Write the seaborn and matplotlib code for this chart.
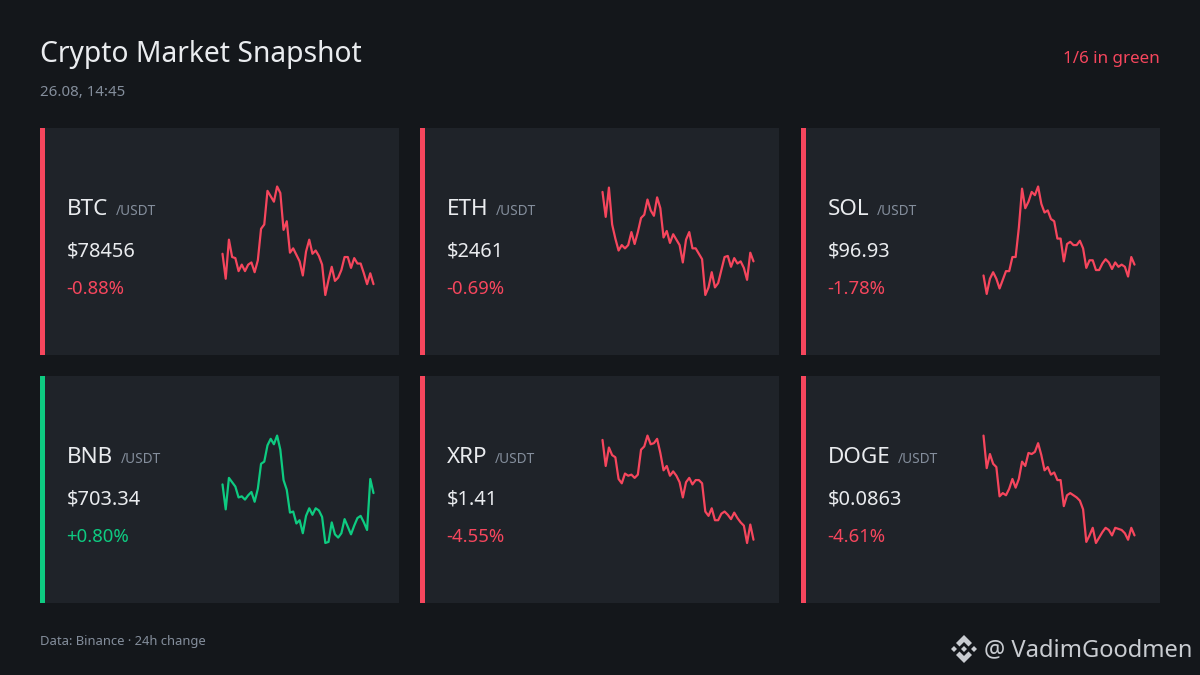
import matplotlib
matplotlib.use("Agg")
import matplotlib.pyplot as plt
from matplotlib.patches import Rectangle, Polygon
import pandas as pd
import seaborn as sns

symbols = ["BTC", "ETH", "SOL", "BNB", "XRP", "DOGE"]
prices = ["$78456", "$2461", "$96.93", "$703.34", "$1.41", "$0.0863"]
changes = ["-0.88%", "-0.69%", "-1.78%", "+0.80%", "-4.55%", "-4.61%"]

btc = [38,15,51,35,34,22,28,22,28,30,21,32,61,65,96,91,86,100,94,60,68,39,43,37,31,18,40,51,38,41,36,28,0,14,26,13,16,23,35,35,25,34,29,29,20,10,20,10]
eth = [95,72,99,65,52,41,46,43,46,58,47,58,71,74,88,78,73,90,80,53,59,48,56,51,46,30,51,58,43,43,38,33,0,7,21,7,11,23,35,36,26,34,29,31,25,14,39,31]
sol = [18,1,15,21,15,6,14,22,22,35,35,62,98,80,86,95,92,100,84,76,78,70,68,52,52,31,47,49,46,46,50,43,25,32,32,23,23,29,33,30,24,30,26,28,26,17,35,28]
bnb = [54,31,60,56,52,42,43,40,44,47,38,50,73,75,90,96,91,99,86,58,49,28,29,18,21,9,25,32,26,32,30,24,0,1,19,8,5,9,22,15,8,16,23,25,19,12,59,46]
xrp = [95,71,88,81,79,59,55,64,62,63,60,63,86,89,99,91,92,96,83,67,71,62,66,62,56,42,56,60,54,58,58,55,29,25,32,21,21,27,29,26,22,28,23,19,16,0,17,3]
doge = [99,69,82,73,70,43,46,44,50,59,51,59,75,71,83,82,84,92,81,67,70,63,65,58,58,34,44,46,44,42,39,31,1,7,14,0,5,10,14,12,7,14,13,12,9,3,14,7]
series = [btc, eth, sol, bnb, xrp, doge]

BG, CARD = "#14171b", "#1f2329"
RED, GREEN = "#f6465d", "#0ecb81"
WHITE, MUTED = "#eaecef", "#848e9c"

sns.set_theme(style="dark", rc={"figure.facecolor": BG, "axes.facecolor": "none"})
plt.rcParams["font.family"] = ["Noto Sans", "DejaVu Sans"]

W, H = 1200, 675
fig = plt.figure(figsize=(12, 6.75), dpi=100, facecolor=BG)
base = fig.add_axes([0, 0, 1, 1])
base.set_xlim(0, W)
base.set_ylim(H, 0)
base.axis("off")


def px(size):
    return size * 0.72


base.text(40, 54.5, "Crypto Market Snapshot", color=WHITE, fontsize=px(28.3), va="center")
base.text(40, 93, "26.08, 14:45", color=MUTED, fontsize=px(15), va="center")
base.text(1160, 59, "1/6 in green", color=RED, fontsize=px(17), va="center", ha="right")
base.text(40, 641.5, "Data: Binance · 24h change", color=MUTED, fontsize=px(13), va="center")

col_x = [40, 420, 801]
row_y = [128, 376]
card_w, card_h = 359, 227

for i, sym in enumerate(symbols):
    x0 = col_x[i % 3]
    y0 = row_y[i // 3]
    col = GREEN if changes[i].startswith("+") else RED
    base.add_patch(Rectangle((x0, y0), card_w, card_h, fc=CARD, ec="none"))
    base.add_patch(Rectangle((x0, y0), 5, card_h, fc=col, ec="none"))
    t = base.text(x0 + 26.5, y0 + 81.5, sym, color=WHITE, fontsize=px(22.5), va="center")
    base.annotate("/USDT", xy=(1, 0), xycoords=t, xytext=(8, 1), textcoords="offset pixels",
                  color=MUTED, fontsize=px(13.7), va="bottom")
    base.text(x0 + 26.5, y0 + 124, prices[i], color=WHITE, fontsize=px(20), va="center")
    base.text(x0 + 26.5, y0 + 161, changes[i], color=col, fontsize=px(18.5), va="center")

    ax = fig.add_axes([(x0 + 182.5) / W, 1 - (y0 + 167) / H, 151 / W, 108.5 / H])
    df = pd.DataFrame({"t": range(len(series[i])), "v": series[i]})
    sns.lineplot(data=df, x="t", y="v", ax=ax, color=col, linewidth=1.6, clip_on=False, errorbar=None)
    ax.set_xlim(0, len(series[i]) - 1)
    ax.set_ylim(0, 100)
    ax.axis("off")

# Binance-style diamond mark
lc = "#c9ccd1"
cx, cy = 964, 649
shapes = [
    [(0, -14), (8, -6), (4.5, -2.5), (0, -7), (-4.5, -2.5), (-8, -6)],
    [(0, 14), (8, 6), (4.5, 2.5), (0, 7), (-4.5, 2.5), (-8, 6)],
    [(0, -3), (3, 0), (0, 3), (-3, 0)],
    [(-10, -3), (-7, 0), (-10, 3), (-13, 0)],
    [(10, -3), (13, 0), (10, 3), (7, 0)],
]
for s in shapes:
    base.add_patch(Polygon([(cx + a, cy + b) for a, b in s], fc=lc, ec="none"))
base.text(1192, 650, "@ VadimGoodmen", color=lc, fontsize=px(23.7), va="center", ha="right")

fig.savefig("out.png", dpi=100, facecolor=BG)
